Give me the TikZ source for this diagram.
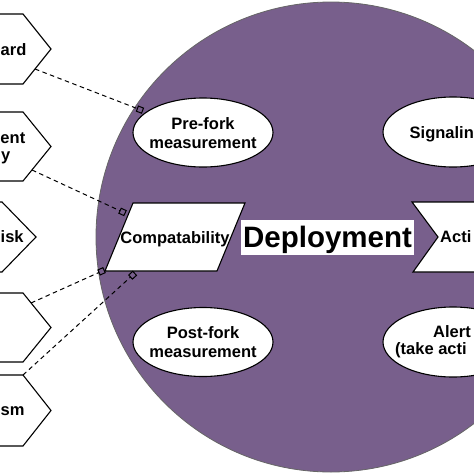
\documentclass[tikz,border=0pt]{standalone}
\usepackage{fontspec}
\setmainfont{Liberation Sans}
\usetikzlibrary{arrows.meta,shapes.geometric}
\definecolor{deppurple}{RGB}{120,95,140}
\begin{document}
\begin{tikzpicture}[x=1pt,y=-1pt,
  lbl/.style={font=\fontsize{16.5}{18.5}\selectfont\bfseries, inner sep=0pt, align=center},
  shapeline/.style={draw=black, line width=1.1pt},
  ellbox/.style={shapeline, fill=white, ellipse, minimum width=140pt, minimum height=69pt, inner sep=0pt},
  hexbox/.style={shapeline, fill=white},
  link/.style={line width=1pt, dash pattern=on 4.5pt off 3.5pt, -{Square[open,length=6.5pt,width=6.5pt]}}
]
\useasboundingbox (0,0) rectangle (474,474);
\begin{scope}
\clip (0,0) rectangle (474,474);
% big circle
\filldraw[fill=deppurple, draw=black!60, line width=0.8pt] (331,237) circle[radius=235pt];

% hexagons on the left
\draw[hexbox] (-100,14) -- (23,14) -- (51,49) -- (23,84) -- (-100,84);
\draw[hexbox] (-100,112) -- (23,112) -- (51,146.5) -- (23,181) -- (-100,181);
\draw[hexbox] (-100,202) -- (2,202) -- (36,237) -- (2,272) -- (-100,272);
\draw[hexbox] (-100,293) -- (23,293) -- (51,327.5) -- (23,362) -- (-100,362);
\draw[hexbox] (-100,375) -- (23,375) -- (51,410.5) -- (23,446) -- (-100,446);
\node[lbl, anchor=base west] (hexa) at (0.5,55) {ard};
\node[lbl, anchor=base west] (hexb1) at (0.3,143.5) {ent};
\node[lbl, anchor=base west] (hexb2) at (1,160.5) {y};
\node[lbl, anchor=base west] (hexc) at (0.5,242) {isk};
\node[lbl, anchor=base west] (hexe) at (0.5,415) {sm};

% ellipses
\node[ellbox] (pre) at (203,132.5) {};
\node[lbl] (pretext) at (203,133) {Pre-fork\\measurement};
\node[ellbox] (post) at (203,342) {};
\node[lbl] (posttext) at (203,342) {Post-fork\\measurement};
\node[ellbox, minimum height=70pt] (sig) at (453,132) {};
\node[lbl, anchor=base west] (sigtext) at (409.5,138) {Signalin};
\node[ellbox, minimum height=70pt] (alert) at (453,342) {};
\node[lbl, anchor=base west] (alerttext1) at (433,337) {Alert};
\node[lbl, anchor=base west] (alerttext2) at (395,354) {(take acti};

% compatability parallelogram
\coordinate (cbl) at (105,271);
\coordinate (ctl) at (133,203);
\coordinate (ctr) at (245,203);
\coordinate (cbr) at (217,271);
\draw[shapeline, fill=white] (cbl) -- (ctl) -- (ctr) -- (cbr) -- cycle;
\node[lbl, anchor=base] (comp) at (175,243) {Compatability};

% activation chevron
\draw[shapeline, fill=white] (412,202) -- (600,202) -- (600,272) -- (413,272) -- (438,237) -- cycle;
\node[lbl, anchor=west] (act) at (440,237) {Acti};

% deployment label
\node[fill=white, inner xsep=2.5pt, inner ysep=0pt, text height=27pt, text depth=8pt,
      font=\fontsize{29.5}{32}\selectfont\bfseries, anchor=base] (dep) at (327.5,247) {Deployment};

% connectors
\coordinate (s1) at (35,69);
\coordinate (s2) at (32,170);
\coordinate (s3) at (31,303);
\coordinate (s4) at (23,375);
\coordinate (e1) at (143,110.8);
\coordinate (e2) at (125.5,213.3);
\coordinate (e3) at (104.5,270);
\coordinate (e4) at (135,273);
\draw[link] (s1) -- (e1);
\draw[link] (s2) -- (e2);
\draw[link] (s3) -- (e3);
\draw[link] (s4) -- (e4);
\end{scope}
\end{tikzpicture}
\end{document}
